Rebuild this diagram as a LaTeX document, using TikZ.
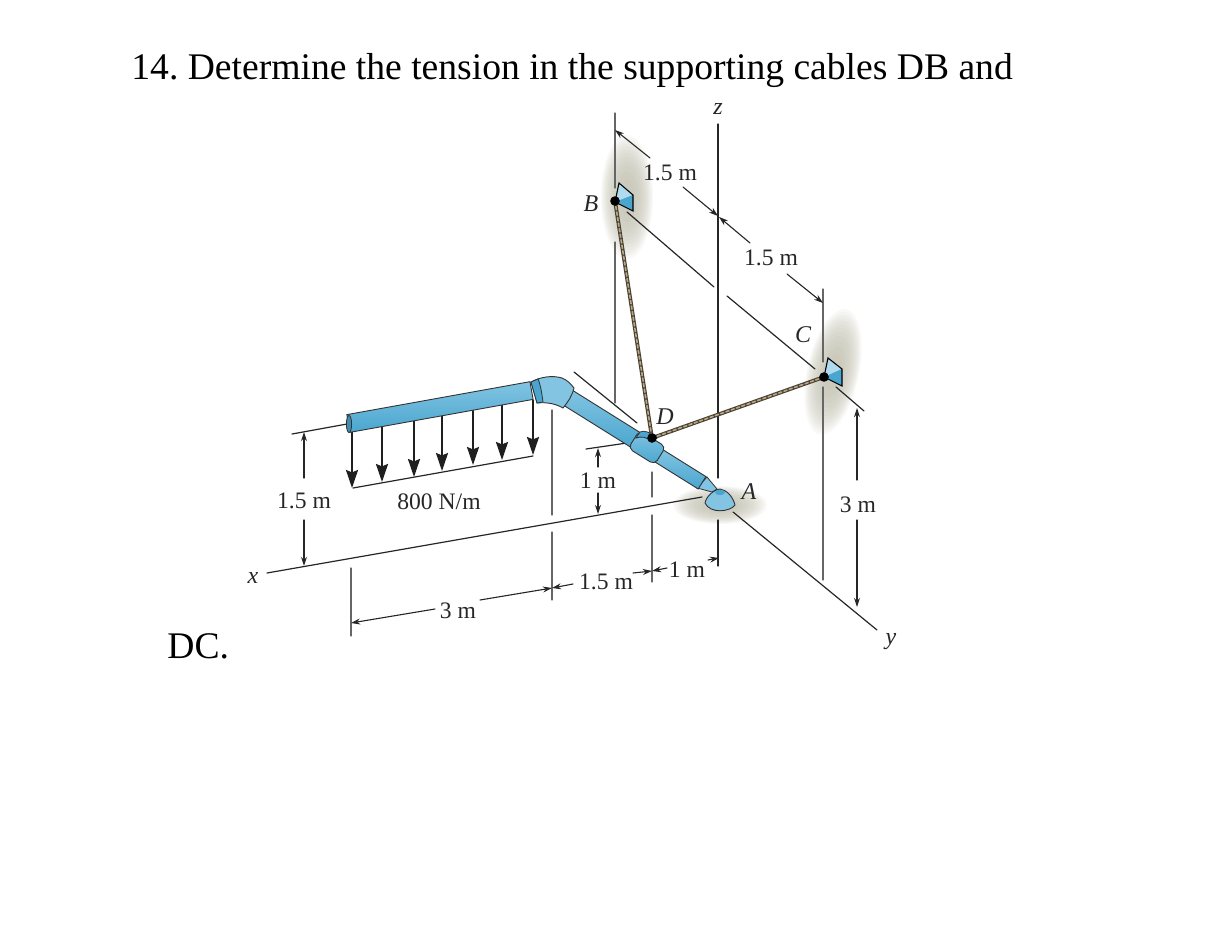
\documentclass[tikz,border=0pt]{standalone}
\usepackage{fontspec}
\setmainfont{Liberation Serif}
\usepackage{tkz-euclide}
\usetikzlibrary{arrows.meta, calc}
\definecolor{pipedark}{HTML}{4AA6CF}
\definecolor{pipemid}{HTML}{82C4E2}
\definecolor{pipepale}{HTML}{BFE1F1}
\definecolor{spotgrey}{HTML}{8F8D70}
\definecolor{cabledark}{HTML}{4A4234}
\definecolor{cablepale}{HTML}{B9A888}
\tikzset{
  dimline/.style={line width=.55pt, color=black!85, -{Stealth[length=4.6pt,width=3pt]}},
  plainline/.style={line width=.6pt, color=black!85},
  extline/.style={line width=.65pt, color=black!60},
  loadarrow/.style={line width=1pt, color=black!88, -{Stealth[length=9pt,width=6pt,inset=1.2pt]}},
  cablecore/.style={line width=1.9pt, color=cabledark},
  cabletwist/.style={line width=.8pt, color=cablepale, dash pattern=on 1.6pt off 1.2pt},
  dimtext/.style={inner sep=0pt, font=\fontsize{11.8pt}{13pt}\selectfont, color=black!85},
  pttext/.style={inner sep=0pt, font=\fontsize{12pt}{13pt}\selectfont\itshape, color=black!85},
  headtext/.style={inner sep=0pt, anchor=base west, font=\fontsize{18.8pt}{20pt}\selectfont},
  pipesec/.style={draw=black!80, line width=.45pt, inner sep=0pt, top color=pipemid, middle color=pipepale, bottom color=pipedark},
  pipebend/.style={draw=black!80, line width=.45pt, top color=pipemid, middle color=pipepale, bottom color=pipemid},
  supportedge/.style={draw=black, line width=.55pt},
}
\begin{document}
\frenchspacing
\begin{tikzpicture}[x=.5pt, y=-.5pt]
\useasboundingbox (0,0) rectangle (1224,925);
\tkzDefPoints{615/201/B, 824/377/C, 652/438/D, 720/492/A}
\node[headtext] (title) at (131,80) {14. Determine the tension in the supporting cables DB and};
\node[headtext] (titleb) at (167,658) {DC.};
% shadows behind the supports
\foreach \k in {1,...,12}{
  \pgfmathsetmacro\fac{sqrt(\k/12)}
  \fill[spotgrey, opacity=.05] (627,197) ellipse [x radius=26*\fac, y radius=62*\fac];
  \fill[spotgrey, opacity=.05] (833,372) ellipse [x radius=64*\fac, y radius=26*\fac, rotate=78];
  \fill[spotgrey, opacity=.05] (720,505) ellipse [x radius=47*\fac, y radius=19*\fac];
}
% axes and extension lines
\tkzDefPoints{267/573/xa, 702/497/xb, 733/512/ya, 877/630/yb, 718/124/za, 718/478/zb, 718/520/zc, 718/566/zd}
\tkzDrawSegments[plainline](xa,xb ya,yb za,zb zc,zd)
\tkzDefPoints{627/212/ma, 714/287/mb, 727/296/mc, 815/369/md, 836/387/na, 864/411/nb, 574/372/pa, 637/423/pb}
\tkzDefPoints{586/449/qa, 627/443/qb, 292/434/ra, 347/424/rb}
\tkzDrawSegments[plainline](ma,mb mc,md na,nb pa,pb qa,qb ra,rb)
\tkzDefPoints{615/113/ba, 615/188/bb, 615/242/bc, 615/403/bd, 823/289/ca, 823/362/cb, 823/387/cc, 823/580/cd}
\tkzDefPoints{652/472/da, 652/497/db, 652/515/dc, 652/582/dd, 552/410/ea, 552/515/eb, 552/532/ec, 552/600/ed, 351/568/fa, 351/636/fb}
\tkzDrawSegments[extline](ba,bb bc,bd ca,cb cc,cd da,db dc,dd ea,eb ec,ed fa,fb)
% dimension lines
\tkzDefPoints{650/158/ga, 615/130/gb, 683/187/gc, 718/216/gd, 750/243/ge, 719/217/gf, 787/274/gg, 823/303/gh}
\tkzDrawSegments[dimline](ga,gb gc,gd ge,gf gg,gh)
\tkzDefPoints{857/480/ha, 857/408/hb, 857/520/hc, 857/607/hd, 304/478/ia, 304/432/ib, 304/520/ic, 304/566/id}
\tkzDrawSegments[dimline](ha,hb hc,hd ia,ib ic,id)
\tkzDefPoints{598/467/ja, 598/448/jb, 598/493/jc, 598/514/jd}
\tkzDrawSegments[dimline](ja,jb jc,jd)
\tkzDefPoints{435/609/ka, 351/623/kb, 480/600/kc, 552/588/kd, 573/584/ke, 552/588/kf, 633/573/kg, 652/571/kh, 667/568/ki, 652/571/kj, 708/560/kk, 719/558/kl}
\tkzDrawSegments[dimline](ka,kb kc,kd ke,kf kg,kh ki,kj kk,kl)
% distributed load
\tkzDefPoints{353/488/la, 533/456/lb}
\tkzDrawSegments[plainline](la,lb)
\foreach \x/\ya/\yb in {352/430/488, 382/427/482, 414/421/477, 442/416/471, 473/410/465, 502/404/460, 533/400/455}{
  \draw[loadarrow] (\x,\ya) -- (\x,\yb);
}
% pipe
\node[pipesec, rotate=10.2, minimum width=93pt, minimum height=9pt] (pipeL) at (440,407) {};
\fill[pipedark!85!black, draw=black!80, line width=.4pt] (349,424) ellipse [x radius=2.6, y radius=8.6];
\node[pipesec, rotate=-32, minimum width=41pt, minimum height=8.7pt] (pipeU) at (602,419) {};
\draw[pipebend] (531,382) .. controls (540,377) and (552,375) .. (562,378) .. controls (567,380) and (571,384) .. (574,388) .. controls (572,396) and (568,402) .. (563,408) .. controls (556,404) and (548,402) .. (537,403) -- cycle;
\fill[pipedark, draw=black!80, line width=.4pt] (531,382) -- (538,379) .. controls (541,386) and (542,395) .. (543,402) -- (537,403) -- cycle;
\fill[pipemid, draw=black!80, line width=.4pt] (707,477) -- (717,489) -- (712,492) -- (697,488) -- cycle;
\node[pipesec, rotate=-32, minimum width=26pt, minimum height=7.3pt] (pipeF) at (680,469) {};
\node[pipesec, rotate=-32, rounded corners=2.5pt, minimum width=15.5pt, minimum height=10.5pt] (collarD) at (647,447.5) {};
\fill[pipedark, draw=black!80, line width=.4pt] (640,432) .. controls (644,430) and (650,432) .. (657,438) -- (652,442) .. controls (647,437) and (642,436) .. (636,438) -- cycle;
% base at A
\draw[pipebend] (705,503) .. controls (706,497) and (713,490) .. (720,489) .. controls (727,490) and (733,497) .. (735,505) .. controls (730,512) and (710,514) .. (705,503) -- cycle;
\fill[pipedark] (720,492.5) ellipse [x radius=5, y radius=2.6];
% cables and supports
\tkzDrawSegments[cablecore](B,D D,C)
\tkzDrawSegments[cabletwist](B,D D,C)
\fill[pipepale!75!pipemid] (619,183) -- (633,195) -- (615,202) -- cycle;
\fill[pipedark] (633,195) -- (633,211) -- (615,202) -- cycle;
\draw[supportedge] (615,202) -- (619,183) -- (633,195) -- (633,211) -- cycle;
\fill[pipepale!75!pipemid] (828,358) -- (842,369) -- (824,377) -- cycle;
\fill[pipedark] (842,369) -- (842,386) -- (824,377) -- cycle;
\draw[supportedge] (824,377) -- (828,358) -- (842,369) -- (842,386) -- cycle;
\foreach \p in {B,C,D}{ \fill[black] (\p) circle (2.4pt); }
% labels
\node[dimtext] (lbBz) at (670,173) {1.5 m};
\node[dimtext] (lbzC) at (771,258) {1.5 m};
\node[dimtext] (lbH) at (858,505) {3 m};
\node[dimtext] (lbH1) at (304,501) {1.5 m};
\node[dimtext] (lbLoad) at (439,502) {800 N/m};
\node[dimtext] (lbOne) at (598,481) {1 m};
\node[dimtext] (lbThree) at (458,611) {3 m};
\node[dimtext] (lbMid) at (606,582) {1.5 m};
\node[dimtext] (lbEnd) at (687,570) {1 m};
\node[pttext] (lbA) at (749,492) {A};
\node[pttext] (lbB) at (591,204) {B};
\node[pttext] (lbC) at (803,335) {C};
\node[pttext] (lbD) at (665,417) {D};
\node[pttext] (lbx) at (253,578) {x};
\node[pttext] (lby) at (891,642) {y};
\node[pttext] (lbz) at (718,109) {z};
\end{tikzpicture}
\end{document}
